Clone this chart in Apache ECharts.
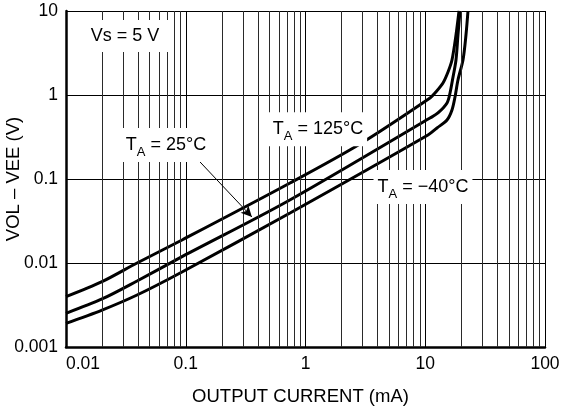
<!DOCTYPE html>
<html>
<head>
<meta charset="utf-8">
<script src="https://cdn.jsdelivr.net/npm/echarts@6/dist/echarts.min.js"></script>
<style>
html,body{margin:0;padding:0;background:#fff;}
#c{width:567px;height:411px;}
</style>
</head>
<body>
<div id="c"></div>
<script>
// ---- data ----
const xTickLabels = ['0.01', '0.1', '1', '10', '100'];
const yTickLabels = ['0.001', '0.01', '0.1', '1', '10'];
const minorGridX = [0.02,0.03,0.04,0.05,0.06,0.07,0.08,0.09,
                    0.2,0.3,0.4,0.5,0.6,0.7,0.8,0.9,
                    2,3,4,5,6,7,8,9,
                    20,30,40,50,60,70,80,90];

const current125 = [0.01, 0.0200, 0.0392, 0.0931, 0.743, 2.85, 10.96, 12.06, 14.06, 15.49, 16.72, 18.06, 19.14];
const vol125     = [0.00397, 0.00599, 0.0100, 0.0188, 0.0896, 0.261, 0.921, 1.056, 1.39, 1.88, 2.61, 5.18, 10];

const current25 = [0.01, 0.0200, 0.0392, 0.0931, 0.715, 10.96, 12.77, 15.2, 16.1, 17.06, 18.06, 18.76, 19.5];
const vol25     = [0.00252, 0.00373, 0.00611, 0.01189, 0.0547, 0.532, 0.611, 0.803, 1.056, 1.64, 2.61, 5.18, 10];

const currentM40 = [0.01, 0.0200, 0.0392, 0.0931, 0.743, 10.54, 12.53, 15.2, 16.72, 17.72, 18.76, 20.66, 21.88, 22.74];
const volM40     = [0.00191, 0.00275, 0.00416, 0.00782, 0.0394, 0.334, 0.405, 0.504, 0.663, 0.946, 1.51, 2.61, 5.18, 10];

function zip(xs, ys){ return xs.map((x,i)=>[x, ys[i]]); }
function pickLabel(list, v){
  const s = list.find(t => Math.abs(Math.log10(+t) - Math.log10(v)) < 1e-6);
  return s === undefined ? '' : s;
}

const FONT = '"Liberation Sans", Arial, sans-serif';
const richSub = {
  a: {fontSize: 18, fontFamily: FONT, color: '#000', lineHeight: 24, verticalAlign: 'middle'},
  b: {fontSize: 13, fontFamily: FONT, color: '#000', lineHeight: 28, verticalAlign: 'bottom'}
};
function textPoint(coord, fmt, pad){
  return {
    coord: coord, symbol: 'rect', symbolSize: 1,
    itemStyle: {color: 'rgba(0,0,0,0)'},
    label: {show: true, position: 'inside', formatter: fmt, rich: richSub,
            backgroundColor: '#fff', padding: pad || [3, 4]}
  };
}

const curveStyle = {color: '#000', width: 3};

const chart = echarts.init(document.getElementById('c'), null, {renderer: 'canvas'});
chart.setOption({
  animation: false,
  backgroundColor: '#fff',
  grid: {left: 66, right: 22, top: 11, bottom: 64, containLabel: false, outerBoundsMode: 'none'},
  xAxis: {
    type: 'log', logBase: 10, min: 0.01, max: 100,
    name: 'OUTPUT CURRENT (mA)', nameLocation: 'middle', nameGap: 40, nameMoveOverlap: false,
    nameTextStyle: {fontSize: 18.5, fontFamily: FONT, color: '#000', padding: [0, 10, 0, 0]},
    axisLine: {show: true, lineStyle: {color: '#000', width: 2.5}},
    axisTick: {show: false},
    axisLabel: {fontSize: 17.5, fontFamily: FONT, color: '#000', margin: 8,
                alignMinLabel: 'left',
                formatter: v => pickLabel(xTickLabels, v)},
    splitLine: {show: true, lineStyle: {color: '#000', width: 1}},
    minorTick: {show: false}, minorSplitLine: {show: false}
  },
  yAxis: {
    type: 'log', logBase: 10, min: 0.001, max: 10,
    name: 'VOL – VEE (V)', nameLocation: 'middle', nameGap: 43, nameMoveOverlap: false,
    nameTextStyle: {fontSize: 18.5, fontFamily: FONT, color: '#000'},
    axisLine: {show: true, lineStyle: {color: '#000', width: 2.5}},
    axisTick: {show: false},
    axisLabel: {fontSize: 17.5, fontFamily: FONT, color: '#000', margin: 8,
                formatter: v => pickLabel(yTickLabels, v)},
    splitLine: {show: true, lineStyle: {color: '#000', width: 1}}
  },
  series: [
    {
      type: 'line', data: [], z: 1, silent: true,
      markLine: {
        silent: true, symbol: 'none', animation: false,
        label: {show: false},
        lineStyle: {color: '#2a2a2a', width: 1, type: 'solid'},
        data: minorGridX.map(v => ({xAxis: v}))
      }
    },
    {
      name: 'TA = 125°C', type: 'line', data: zip(current125, vol125), z: 3,
      showSymbol: false, symbol: 'none', smooth: 0.3, lineStyle: curveStyle
    },
    {
      name: 'TA = 25°C', type: 'line', data: zip(current25, vol25), z: 3,
      showSymbol: false, symbol: 'none', smooth: 0.3, lineStyle: curveStyle,
      markLine: {
        silent: true, symbol: ['none', 'arrow'], symbolSize: [8, 11], animation: false,
        label: {show: false},
        lineStyle: {color: '#000', width: 1, type: 'solid'},
        data: [[{coord: [0.108, 0.215]}, {coord: [0.357, 0.0353]}]]
      }
    },
    {
      name: 'TA = −40°C', type: 'line', data: zip(currentM40, volM40), z: 3,
      showSymbol: false, symbol: 'none', smooth: 0.3, lineStyle: curveStyle,
      markPoint: {
        silent: true, animation: false,
        data: [
          textPoint([0.0311, 5.04], '{a|Vs = 5 V}', [4, 9]),
          textPoint([0.0684, 0.254], '{a|T}{b|A}{a| = 25°C}'),
          textPoint([1.27, 0.39], '{a|T}{b|A}{a| = 125°C}'),
          textPoint([9.57, 0.0803], '{a|T}{b|A}{a| = −40°C}')
        ]
      }
    }
  ]
});
</script>
</body>
</html>
